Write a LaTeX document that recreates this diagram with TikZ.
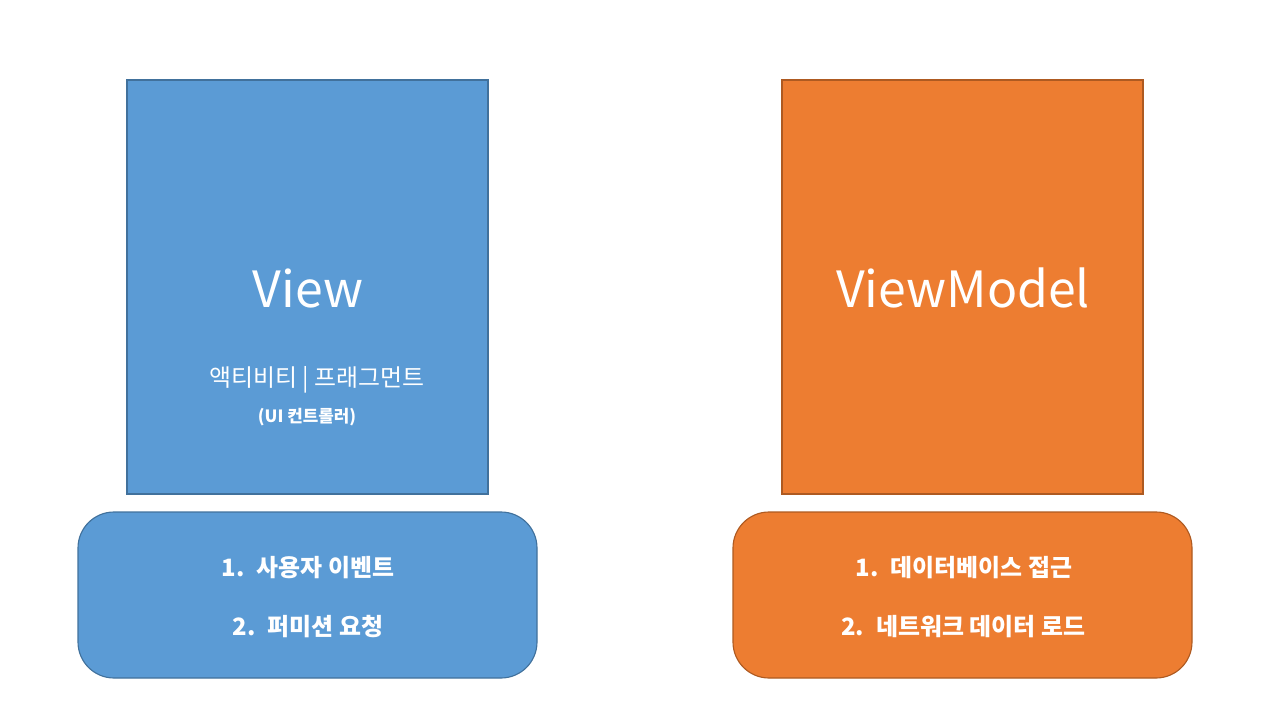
\documentclass[tikz,border=0pt]{standalone}
\usepackage{fontspec}
\setmainfont{Noto Sans CJK KR}
\usepackage{tikz}
\definecolor{viewblue}{HTML}{5B9BD5}
\definecolor{viewblueline}{HTML}{41719C}
\definecolor{vmorange}{HTML}{ED7D31}
\definecolor{vmorangeline}{HTML}{AE5A21}
\tikzset{
	bigbox/.style={draw, line width=0.8pt, minimum width=9.025cm, minimum height=10.35cm},
	listbox/.style={draw, line width=0.8pt, rounded corners=0.9cm, minimum width=11.475cm, minimum height=4.15cm},
	title/.style={text=white, font=\fontsize{35.5}{38}\selectfont},
	item/.style={text=white, font=\fontsize{17}{19}\selectfont\bfseries}
}
\begin{document}
\begin{tikzpicture}
			\useasboundingbox (0,0) rectangle (32,-17.9);
			\node[bigbox, fill=viewblue, draw=viewblueline] (view) at (7.6875,-7.175) {};
			\node[listbox, fill=viewblue, draw=viewblueline] (viewlist) at (7.6875,-14.875) {};
			\node[bigbox, fill=vmorange, draw=vmorangeline] (vm) at (24.0625,-7.175) {};
			\node[listbox, fill=vmorange, draw=vmorangeline] (vmlist) at (24.0625,-14.875) {};
			\node[title] (viewtitle) at (7.7,-7.2) {View};
			\node[text=white, font=\fontsize{17}{19}\selectfont] (viewsub) at (7.925,-9.5) {액티비티 | 프래그먼트};
			\node[text=white, font=\fontsize{12}{14}\selectfont\bfseries] (viewnote) at (7.675,-10.42) {(UI 컨트롤러)};
			\node[item] (viewitema) at (7.7,-14.2) {1.\enspace 사용자 이벤트};
			\node[item] (viewitemb) at (7.7,-15.67) {2.\enspace 퍼미션 요청};
			\node[title] (vmtitle) at (24.08,-7.2) {ViewModel};
			\node[item] (vmitema) at (24.1,-14.2) {1.\enspace 데이터베이스 접근};
			\node[item] (vmitemb) at (24.08,-15.67) {2.\enspace 네트워크 데이터 로드};
		\end{tikzpicture}
\end{document}
